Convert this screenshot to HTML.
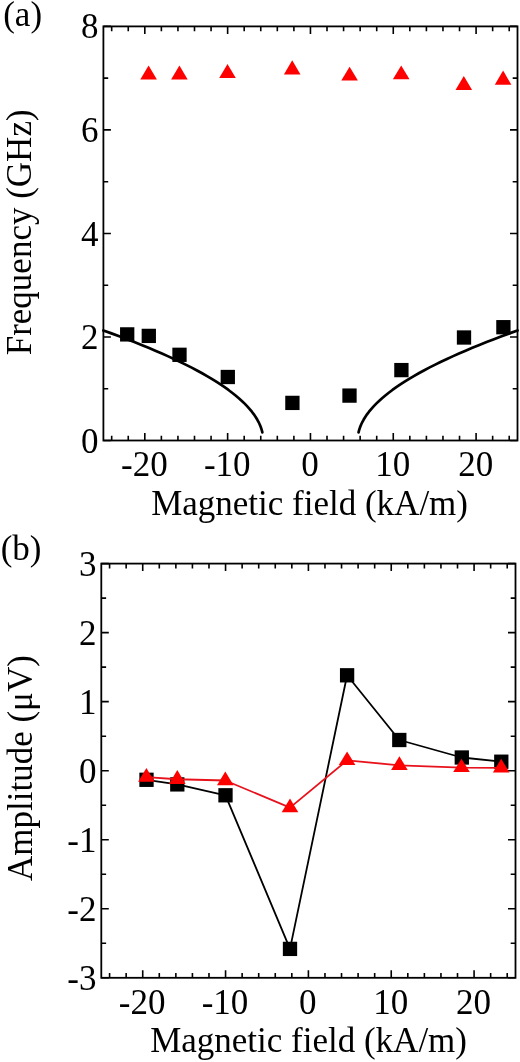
<!DOCTYPE html>
<html><head><meta charset="utf-8"><title>Figure</title>
<style>
html,body{margin:0;padding:0;background:#fff;width:520px;height:1062px;overflow:hidden}
svg{display:block}
text{font-family:"Liberation Serif","Times New Roman",serif;font-size:35px;fill:#000}
</style></head><body>
<svg width="520" height="1062" viewBox="0 0 520 1062">
<rect width="520" height="1062" fill="#fff"/>
<path d="M144.81 440.50V433.00M144.81 26.40V33.90M227.63 440.50V433.00M227.63 26.40V33.90M310.45 440.50V433.00M310.45 26.40V33.90M393.27 440.50V433.00M393.27 26.40V33.90M476.09 440.50V433.00M476.09 26.40V33.90M111.68 440.50V435.70M111.68 26.40V31.20M128.25 440.50V435.70M128.25 26.40V31.20M161.37 440.50V435.70M161.37 26.40V31.20M177.94 440.50V435.70M177.94 26.40V31.20M194.50 440.50V435.70M194.50 26.40V31.20M211.07 440.50V435.70M211.07 26.40V31.20M244.19 440.50V435.70M244.19 26.40V31.20M260.76 440.50V435.70M260.76 26.40V31.20M277.32 440.50V435.70M277.32 26.40V31.20M293.89 440.50V435.70M293.89 26.40V31.20M327.01 440.50V435.70M327.01 26.40V31.20M343.58 440.50V435.70M343.58 26.40V31.20M360.14 440.50V435.70M360.14 26.40V31.20M376.71 440.50V435.70M376.71 26.40V31.20M409.83 440.50V435.70M409.83 26.40V31.20M426.40 440.50V435.70M426.40 26.40V31.20M442.96 440.50V435.70M442.96 26.40V31.20M459.53 440.50V435.70M459.53 26.40V31.20M492.65 440.50V435.70M492.65 26.40V31.20M509.22 440.50V435.70M509.22 26.40V31.20M103.40 440.50H110.90M517.50 440.50H510.00M103.40 336.98H110.90M517.50 336.98H510.00M103.40 233.45H110.90M517.50 233.45H510.00M103.40 129.92H110.90M517.50 129.92H510.00M103.40 26.40H110.90M517.50 26.40H510.00M103.40 388.74H108.20M517.50 388.74H512.70M103.40 285.21H108.20M517.50 285.21H512.70M103.40 181.69H108.20M517.50 181.69H512.70M103.40 78.16H108.20M517.50 78.16H512.70" stroke="#000" stroke-width="1.6" fill="none"/>
<rect x="103.40" y="26.40" width="414.10" height="414.10" stroke="#000" stroke-width="1.8" fill="none"/>
<path d="M142.72 977.80V970.30M142.72 563.60V571.10M225.56 977.80V970.30M225.56 563.60V571.10M308.40 977.80V970.30M308.40 563.60V571.10M391.24 977.80V970.30M391.24 563.60V571.10M474.08 977.80V970.30M474.08 563.60V571.10M109.58 977.80V973.00M109.58 563.60V568.40M126.15 977.80V973.00M126.15 563.60V568.40M159.29 977.80V973.00M159.29 563.60V568.40M175.86 977.80V973.00M175.86 563.60V568.40M192.42 977.80V973.00M192.42 563.60V568.40M208.99 977.80V973.00M208.99 563.60V568.40M242.13 977.80V973.00M242.13 563.60V568.40M258.70 977.80V973.00M258.70 563.60V568.40M275.26 977.80V973.00M275.26 563.60V568.40M291.83 977.80V973.00M291.83 563.60V568.40M324.97 977.80V973.00M324.97 563.60V568.40M341.54 977.80V973.00M341.54 563.60V568.40M358.10 977.80V973.00M358.10 563.60V568.40M374.67 977.80V973.00M374.67 563.60V568.40M407.81 977.80V973.00M407.81 563.60V568.40M424.38 977.80V973.00M424.38 563.60V568.40M440.94 977.80V973.00M440.94 563.60V568.40M457.51 977.80V973.00M457.51 563.60V568.40M490.65 977.80V973.00M490.65 563.60V568.40M507.22 977.80V973.00M507.22 563.60V568.40M101.30 977.80H108.80M515.50 977.80H508.00M101.30 908.77H108.80M515.50 908.77H508.00M101.30 839.73H108.80M515.50 839.73H508.00M101.30 770.70H108.80M515.50 770.70H508.00M101.30 701.67H108.80M515.50 701.67H508.00M101.30 632.63H108.80M515.50 632.63H508.00M101.30 563.60H108.80M515.50 563.60H508.00M101.30 943.28H106.10M515.50 943.28H510.70M101.30 874.25H106.10M515.50 874.25H510.70M101.30 805.22H106.10M515.50 805.22H510.70M101.30 736.18H106.10M515.50 736.18H510.70M101.30 667.15H106.10M515.50 667.15H510.70M101.30 598.12H106.10M515.50 598.12H510.70" stroke="#000" stroke-width="1.6" fill="none"/>
<rect x="101.30" y="563.60" width="414.20" height="414.20" stroke="#000" stroke-width="1.8" fill="none"/>
<text x="144.41" y="476.30" text-anchor="middle">-20</text>
<text x="227.23" y="476.30" text-anchor="middle">-10</text>
<text x="310.05" y="476.30" text-anchor="middle">0</text>
<text x="392.87" y="476.30" text-anchor="middle">10</text>
<text x="475.69" y="476.30" text-anchor="middle">20</text>
<text x="98.50" y="452.57" text-anchor="end">0</text>
<text x="98.50" y="349.04" text-anchor="end">2</text>
<text x="98.50" y="245.52" text-anchor="end">4</text>
<text x="98.50" y="141.99" text-anchor="end">6</text>
<text x="98.50" y="38.47" text-anchor="end">8</text>
<text x="142.12" y="1014.30" text-anchor="middle">-20</text>
<text x="224.96" y="1014.30" text-anchor="middle">-10</text>
<text x="307.80" y="1014.30" text-anchor="middle">0</text>
<text x="390.64" y="1014.30" text-anchor="middle">10</text>
<text x="473.48" y="1014.30" text-anchor="middle">20</text>
<text x="96.50" y="989.87" text-anchor="end">-3</text>
<text x="96.50" y="920.83" text-anchor="end">-2</text>
<text x="96.50" y="851.80" text-anchor="end">-1</text>
<text x="96.50" y="782.77" text-anchor="end">0</text>
<text x="96.50" y="713.73" text-anchor="end">1</text>
<text x="96.50" y="644.70" text-anchor="end">2</text>
<text x="96.50" y="575.67" text-anchor="end">3</text>
<text x="309.60" y="515.0" text-anchor="middle">Magnetic field (kA/m)</text>
<text x="308.60" y="1052.0" text-anchor="middle">Magnetic field (kA/m)</text>
<text transform="translate(31.2 355.3) rotate(-90)">Frequency (GHz)</text>
<text transform="translate(31.7 881.0) rotate(-90)">Amplitude (μV)</text>
<text x="3.2" y="26.0">(a)</text>
<text x="0.7" y="559.8">(b)</text>
<path d="M262.33 432.34 L262.23 431.88 L261.91 430.65 L261.39 428.87 L260.66 426.77 L259.72 424.47 L258.57 422.04 L257.21 419.52 L255.64 416.95 L253.87 414.34 L251.88 411.69 L249.69 409.03 L247.28 406.34 L244.67 403.64 L241.85 400.93 L238.82 398.20 L235.58 395.46 L232.13 392.72 L228.48 389.97 L224.61 387.21 L220.53 384.44 L216.25 381.66 L211.76 378.88 L207.06 376.09 L202.14 373.29 L197.02 370.49 L191.70 367.68 L186.16 364.86 L180.41 362.03 L174.45 359.20 L168.29 356.36 L161.92 353.52 L155.33 350.66 L148.54 347.80 L141.54 344.93 L134.33 342.06 L126.91 339.17 L119.28 336.28 L111.45 333.38 L103.40 330.47" stroke="#000" stroke-width="2.7" fill="none" stroke-linecap="round" stroke-linejoin="round"/>
<path d="M358.57 432.34 L358.67 431.88 L358.99 430.65 L359.51 428.87 L360.24 426.77 L361.18 424.47 L362.33 422.04 L363.69 419.52 L365.26 416.95 L367.03 414.34 L369.02 411.69 L371.21 409.03 L373.62 406.34 L376.23 403.64 L379.05 400.93 L382.08 398.20 L385.32 395.46 L388.77 392.72 L392.42 389.97 L396.29 387.21 L400.37 384.44 L404.65 381.66 L409.14 378.88 L413.84 376.09 L418.76 373.29 L423.88 370.49 L429.20 367.68 L434.74 364.86 L440.49 362.03 L446.45 359.20 L452.61 356.36 L458.98 353.52 L465.57 350.66 L472.36 347.80 L479.36 344.93 L486.57 342.06 L493.99 339.17 L501.62 336.28 L509.45 333.38 L517.50 330.47" stroke="#000" stroke-width="2.7" fill="none" stroke-linecap="round" stroke-linejoin="round"/>
<rect x="120.05" y="327.25" width="14.30" height="14.30" fill="#000"/>
<rect x="141.65" y="328.75" width="14.30" height="14.30" fill="#000"/>
<rect x="172.35" y="347.65" width="14.30" height="14.30" fill="#000"/>
<rect x="220.65" y="369.85" width="14.30" height="14.30" fill="#000"/>
<rect x="285.25" y="395.75" width="14.30" height="14.30" fill="#000"/>
<rect x="342.35" y="388.45" width="14.30" height="14.30" fill="#000"/>
<rect x="394.25" y="362.95" width="14.30" height="14.30" fill="#000"/>
<rect x="456.85" y="330.35" width="14.30" height="14.30" fill="#000"/>
<rect x="496.25" y="320.05" width="14.30" height="14.30" fill="#000"/>
<path d="M148.60 65.40L156.90 79.40L140.30 79.40Z" fill="#ff0000"/>
<path d="M179.40 65.40L187.70 79.40L171.10 79.40Z" fill="#ff0000"/>
<path d="M227.50 64.00L235.80 77.90L219.20 77.90Z" fill="#ff0000"/>
<path d="M292.20 60.30L300.50 74.40L283.90 74.40Z" fill="#ff0000"/>
<path d="M349.60 66.70L357.90 80.60L341.30 80.60Z" fill="#ff0000"/>
<path d="M401.20 65.60L409.50 79.30L392.90 79.30Z" fill="#ff0000"/>
<path d="M463.80 76.00L472.10 89.90L455.50 89.90Z" fill="#ff0000"/>
<path d="M503.10 70.60L511.40 84.80L494.80 84.80Z" fill="#ff0000"/>
<path d="M146.50 779.80 L177.30 784.40 L225.50 795.30 L290.00 948.90 L347.10 675.30 L399.30 740.00 L461.80 757.50 L501.30 761.70" stroke="#000" stroke-width="1.8" fill="none" stroke-linejoin="round"/>
<rect x="139.35" y="772.65" width="14.30" height="14.30" fill="#000"/>
<rect x="170.15" y="777.25" width="14.30" height="14.30" fill="#000"/>
<rect x="218.35" y="788.15" width="14.30" height="14.30" fill="#000"/>
<rect x="282.85" y="941.75" width="14.30" height="14.30" fill="#000"/>
<rect x="339.95" y="668.15" width="14.30" height="14.30" fill="#000"/>
<rect x="392.15" y="732.85" width="14.30" height="14.30" fill="#000"/>
<rect x="454.65" y="750.35" width="14.30" height="14.30" fill="#000"/>
<rect x="494.15" y="754.55" width="14.30" height="14.30" fill="#000"/>
<path d="M146.40 777.03 L177.30 779.23 L225.30 780.50 L290.00 807.60 L347.10 760.37 L399.40 765.30 L461.50 767.53 L501.20 767.87" stroke="#e8121c" stroke-width="1.8" fill="none" stroke-linejoin="round"/>
<path d="M146.40 768.00L154.70 781.70L138.10 781.70Z" fill="#ff0000"/>
<path d="M177.30 770.00L185.60 784.00L169.00 784.00Z" fill="#ff0000"/>
<path d="M225.30 771.40L233.60 785.20L217.00 785.20Z" fill="#ff0000"/>
<path d="M290.00 798.50L298.30 812.30L281.70 812.30Z" fill="#ff0000"/>
<path d="M347.10 751.40L355.40 765.00L338.80 765.00Z" fill="#ff0000"/>
<path d="M399.40 756.20L407.70 770.00L391.10 770.00Z" fill="#ff0000"/>
<path d="M461.50 758.70L469.80 772.10L453.20 772.10Z" fill="#ff0000"/>
<path d="M501.20 758.70L509.50 772.60L492.90 772.60Z" fill="#ff0000"/>
</svg>
</body></html>
